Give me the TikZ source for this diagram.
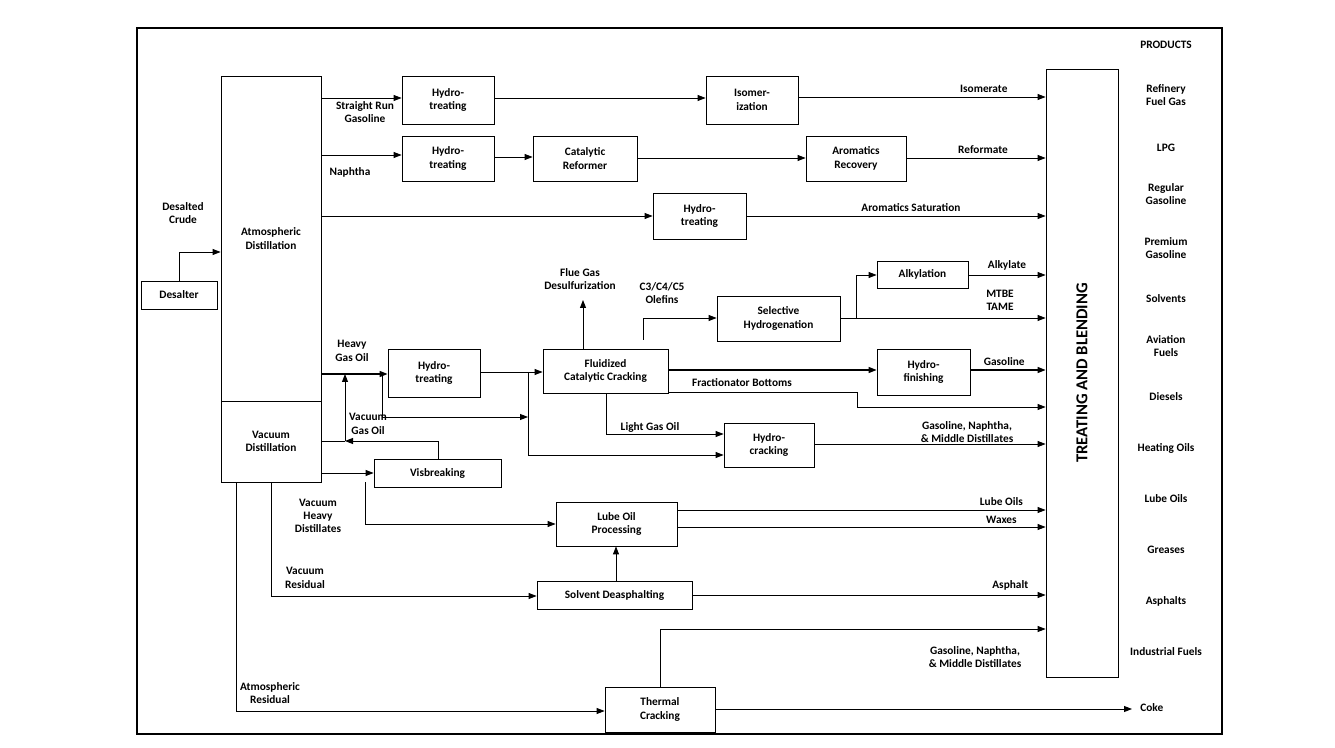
\documentclass[tikz,border=0pt]{standalone}
\usepackage{fontspec}
\setmainfont{Carlito}
\usetikzlibrary{arrows.meta}
\begin{document}
\begin{tikzpicture}[x=0.75pt,y=-0.75pt,
  every node/.style={font=\fontsize{8.5}{10}\selectfont\bfseries, align=center, inner sep=0pt},
  box/.style={draw, line width=0.6pt},
  a/.style={-{Triangle[length=6pt,width=4.5pt]}, line width=0.7pt},
  l/.style={line width=0.7pt}]
\useasboundingbox (0,0) rectangle (1335,748);
\draw[line width=1.4pt] (137,28) rectangle (1222,734);
\newcommand{\bx}[6]{\node[box,minimum width=#4*0.75pt,minimum height=#5*0.75pt] (#1) at (#2,#3) {#6};}
\bx{desalter}{179}{295}{76}{28}{Desalter}
\bx{atm}{271}{238.5}{100}{325}{Atmospheric\\Distillation}
\bx{vac}{271}{441.5}{100}{81}{Vacuum\\Distillation}
\bx{ht1}{448}{100}{92}{48}{Hydro-\\treating}
\bx{iso}{752}{100}{92}{48}{Isomer-\\ization}
\bx{ht2}{448}{158.5}{92}{45}{Hydro-\\treating}
\bx{cr}{585}{158.5}{104}{45}{Catalytic\\Reformer}
\bx{ar}{856}{158.5}{100}{45}{Aromatics\\Recovery}
\bx{ht3}{699.5}{216}{93}{46}{Hydro-\\treating}
\bx{tb}{1082}{373}{72}{608}{}
\node[rotate=90,font=\fontsize{12.5}{14}\selectfont\bfseries] at (tb) {TREATING AND BLENDING};
\bx{ht4}{434}{373}{92}{48}{Hydro-\\treating}
\bx{fcc}{605.5}{371}{125}{44}{Fluidized\\Catalytic Cracking}
\bx{sh}{778.5}{318.5}{123}{45}{Selective\\Hydrogenation}
\bx{alk}{922.5}{274.5}{91}{27}{Alkylation}
\bx{hf}{923.5}{372}{93}{46}{Hydro-\\finishing}
\bx{hc}{769}{445}{90}{44}{Hydro-\\cracking}
\bx{vis}{437.5}{473}{127}{28}{Visbreaking}
\bx{lube}{616.5}{524}{121}{44}{Lube Oil\\Processing}
\bx{sd}{614.5}{595}{155}{28}{Solvent Deasphalting}
\bx{tc}{660}{709.5}{110}{45}{Thermal\\Cracking}
% products
\node at (1166,45) {PRODUCTS};
\node at (1166,95) {Refinery\\Fuel Gas};
\node at (1166,148) {LPG};
\node at (1166,194) {Regular\\Gasoline};
\node at (1166,248) {Premium\\Gasoline};
\node at (1166,299) {Solvents};
\node at (1166,346) {Aviation\\Fuels};
\node at (1166,397) {Diesels};
\node at (1166,448) {Heating Oils};
\node at (1166,499) {Lube Oils};
\node at (1166,550) {Greases};
\node at (1166,601) {Asphalts};
\node at (1166,652) {Industrial Fuels};
% desalter
\draw[a] (desalter.north) -- (179,252) -- (atm.west|-0,252);
\node at (183,213) {Desalted\\Crude};
% row 1
\draw[a] (atm.east|-0,98) -- (ht1.west|-0,98);
\node at (365,112) {Straight Run\\Gasoline};
\draw[a] (ht1.east|-0,98) -- (iso.west|-0,98);
\draw[a] (iso.east|-0,97) -- (tb.west|-0,97) node[pos=0.75,above=3pt]{Isomerate};
% row 2
\draw[a] (atm.east|-0,155) -- (ht2.west|-0,155);
\node at (350,172) {Naphtha};
\draw[a] (ht2.east|-0,157) -- (cr.west|-0,157);
\draw[a] (cr.east|-0,158) -- (ar.west|-0,158);
\draw[a] (ar.east|-0,158) -- (tb.west|-0,158) node[pos=0.55,above=3pt]{Reformate};
% row 3
\draw[a] (atm.east|-0,216) -- (ht3.west|-0,216);
\draw[a] (ht3.east|-0,216) -- (tb.west|-0,216) node[pos=0.55,above=3pt]{Aromatics Saturation};
% heavy gas oil
\draw[a,line width=1pt] (atm.east|-0,374) -- (ht4.west|-0,374);
\node at (352,351) {Heavy\\Gas Oil};
\draw[l] (ht4.east|-0,372) -- (528,372);
\draw[a] (528,372) -- (fcc.west|-0,372);
\draw[a] (528,372) -- (528,455) -- (hc.west|-0,455);
% vacuum gas oil
\draw[l] (vac.east|-0,441) -- (345,441);
\draw[a] (vis.north-|438,0) -- (438,441) -- (345,441);
\draw[a] (345,441) -- (345,374);
\draw[a] (382,374) -- (382,417) -- (528,417);
\node at (368,424) {Vacuum\\Gas Oil};
\draw[a] (vac.east|-0,473) -- (vis.west);
% FCC outputs
\draw[a] (583,349) -- (583,300);
\node at (580,279) {Flue Gas\\Desulfurization};
\draw[a] (643,340) -- (643,318) -- (sh.west|-0,318);
\node at (662,293) {C3/C4/C5\\Olefins};
\draw[a] (sh.east|-0,318) -- (tb.west|-0,318);
\node at (1000,300) {MTBE\\TAME};
\draw[a] (856,318) -- (856,275) -- (alk.west|-0,275);
\draw[a] (alk.east|-0,275) -- (tb.west|-0,275) node[pos=0.5,above=3pt]{Alkylate};
\draw[a,line width=1pt] (fcc.east|-0,370) -- (hf.west|-0,370);
\draw[a,line width=1pt] (hf.east|-0,370) -- (tb.west|-0,370) node[pos=0.45,above=3pt]{Gasoline};
\draw[a] (fcc.east|-0,392) -- (857,392) -- (857,407) -- (tb.west|-0,407);
\node at (742,383) {Fractionator Bottoms};
\draw[a] (fcc.south-|606,0) -- (606,434) -- (hc.west|-0,434);
\node at (650,427) {Light Gas Oil};
\draw[a] (hc.east|-0,444) -- (tb.west|-0,444);
\node at (967,432) {Gasoline, Naphtha,\\\& Middle Distillates};
% vacuum heavy distillates
\draw[a] (365,482) -- (365,524) -- (lube.west);
\node at (318,516) {Vacuum\\Heavy\\Distillates};
\draw[a] (lube.east|-0,510) -- (tb.west|-0,510) node[pos=0.88,above=3pt]{Lube Oils};
\draw[a] (lube.east|-0,527) -- (tb.west|-0,527) node[pos=0.88,above=2pt]{Waxes};
% vacuum residual
\draw[a] (271,482) -- (271,596) -- (sd.west|-0,596);
\node at (305,578) {Vacuum\\Residual};
\draw[a] (sd.north-|616,0) -- (lube.south-|616,0);
\draw[a] (sd.east|-0,595) -- (tb.west|-0,595) node[pos=0.9,above=3pt]{Asphalt};
% atmospheric residual
\draw[a] (236,482) -- (236,711) -- (tc.west|-0,711);
\node at (270,693) {Atmospheric\\Residual};
\draw[a] (tc.north-|660,0) -- (660,629) -- (tb.west|-0,629);
\node at (975,657) {Gasoline, Naphtha,\\\& Middle Distillates};
\coordinate (coke) at (1132,709);
\draw[a] (tc.east|-0,709) -- (coke);
\node[anchor=west] at (1140,708) {Coke};
\end{tikzpicture}
\end{document}
